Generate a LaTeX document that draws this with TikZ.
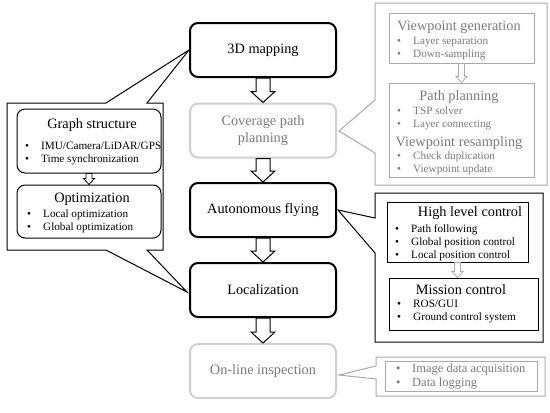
\documentclass[tikz,border=0pt]{standalone}
\usepackage{fontspec}
\setmainfont{Liberation Serif}
\usetikzlibrary{calc}
\definecolor{boxgray}{RGB}{208,208,208}
\definecolor{txtgray}{RGB}{122,122,122}
\definecolor{linegray}{RGB}{170,170,170}
\newcommand\bl{\makebox[16pt][l]{\textbullet}}
\newcommand\blkarrow[6]{\draw[#6] let \p1=(#1),\p2=(#2) in
  (\x1-#3pt,\y1) -- (\x1-#3pt,\y2+#5pt) -- (\x1-#4pt,\y2+#5pt) -- (\x1,\y2)
  -- (\x1+#4pt,\y2+#5pt) -- (\x1+#3pt,\y2+#5pt) -- (\x1+#3pt,\y1) -- cycle;}
\begin{document}
\begin{tikzpicture}[x=1pt,y=-1pt,
  mainbox/.style={draw,line width=2pt,rounded corners=8pt,minimum width=146pt,
    minimum height=54pt,font=\fontsize{14.3}{17}\selectfont,align=center,inner sep=0pt},
  graybox/.style={mainbox,draw=boxgray,text=txtgray},
  roundbox/.style={draw,line width=1pt,rounded corners=8pt,inner sep=0pt},
  sqbox/.style={draw,line width=1pt,inner sep=0pt},
  gsqbox/.style={draw=linegray,line width=1pt,inner sep=0pt},
  head/.style={font=\fontsize{14.3}{17}\selectfont,inner sep=0pt},
  ghead/.style={head,text=txtgray},
  blist/.style={font=\fontsize{11.2}{13}\selectfont,align=left,anchor=west,inner sep=0pt},
  gblist/.style={blist,text=txtgray},
  callout/.style={draw,line width=1pt,line join=miter},
  gcallout/.style={draw=linegray,line width=1pt,line join=miter},
]
\useasboundingbox (0,0) rectangle (550,413);

% main flow
\node[mainbox] (map) at (263,50) {3D mapping};
\node[graybox] (cov) at (263,130.5) {Coverage path\\planning};
\node[mainbox] (fly) at (263,210) {Autonomous flying};
\node[mainbox] (loc) at (263,290) {Localization};
\node[graybox] (ins) at (263,371) {On-line inspection};

\blkarrow{map.south}{cov.north}{7}{12}{11}{fill=white,line width=1pt}
\blkarrow{cov.south}{fly.north}{7}{12}{11}{fill=white,line width=1pt}
\blkarrow{fly.south}{loc.north}{7}{12}{11}{fill=white,line width=1pt}
\blkarrow{loc.south}{ins.north}{7}{12}{11}{fill=white,line width=1pt}

% left callout
\coordinate (lt) at ($(map.west)+(0,0)$);
\coordinate (lb) at ($(loc.west)+(-2,2)$);
\draw[callout] (7,103) -- (106,103) -- (lt) -- (147,103) -- (163,103) -- (163,250)
  -- (147,250) -- (lb) -- (106,250) -- (7,250) -- cycle;
\node[roundbox,minimum width=144pt,minimum height=64pt] (gs) at (89,141) {};
\node[roundbox,minimum width=144pt,minimum height=53pt] (opt) at (89,211.5) {};
\node[head] (gsh) at (92,125) {Graph structure};
\node[blist] (gsl) at (25,153.5) {\bl IMU/Camera/LiDAR/GPS\\\bl Time synchronization};
\node[head] (opth) at (92,199) {Optimization};
\node[blist] (optl) at (27,221) {\bl Local optimization\\\bl Global optimization};
\blkarrow{gs.south}{opt.north}{3}{5.5}{6}{fill=white,line width=0.8pt}

% right top callout (gray)
\coordinate (rt) at ($(cov.east)+(2,0.5)$);
\draw[gcallout] (375,3) -- (547,3) -- (547,185) -- (375,185) -- (375,153) -- (rt)
  -- (375,100) -- cycle;
\node[gsqbox,minimum width=145pt,minimum height=50pt] (vg) at (461.5,38) {};
\node[gsqbox,minimum width=145pt,minimum height=94pt] (pp) at (461.5,130) {};
\node[ghead] (vgh) at (459,27) {Viewpoint generation};
\node[gblist] (vgl) at (397,48.5) {\bl Layer separation\\\bl Down-sampling};
\node[ghead] (pph) at (459,97) {Path planning};
\node[gblist] (ppl) at (397,118) {\bl TSP solver\\\bl Layer connecting};
\node[ghead] (vrh) at (459,143) {Viewpoint resampling};
\node[gblist] (vrl) at (397,163.5) {\bl Check duplication\\\bl Viewpoint update};
\blkarrow{vg.south}{pp.north}{3}{5.5}{6}{draw=linegray,fill=white,line width=0.8pt}

% right middle callout (black)
\coordinate (rm) at ($(fly.east)+(1,0)$);
\draw[callout] (375,193) -- (543,193) -- (543,342) -- (375,342) -- (375,253) -- (rm)
  -- (375,218) -- cycle;
\node[sqbox,minimum width=141pt,minimum height=60pt] (hl) at (457.5,232) {};
\node[sqbox,minimum width=149pt,minimum height=52pt] (mc) at (463.5,304) {};
\node[head] (hlh) at (470,213) {High level control};
\node[blist] (hll) at (395,242.5) {\bl Path following\\\bl Global position control\\\bl Local position control};
\node[head] (mch) at (461,290) {Mission control};
\node[blist] (mcl) at (397,311.5) {\bl ROS/GUI\\\bl Ground control system};
\blkarrow{hl.south}{mc.north}{3}{5.5}{6}{draw=linegray,fill=white,line width=0.8pt}

% bottom right callout (gray)
\coordinate (rb) at ($(ins.east)+(2,4)$);
\draw[gcallout] (376,357) -- (545,357) -- (545,396) -- (376,396) -- (376,379) -- (rb)
  -- (376,366) -- cycle;
\node[gsqbox,minimum width=152pt,minimum height=30pt] (ia) at (461.5,376.5) {};
\node[gblist,font=\fontsize{12.5}{14}\selectfont] (ial) at (396,377) {\bl Image data acquisition\\\bl Data logging};
\end{tikzpicture}
\end{document}
